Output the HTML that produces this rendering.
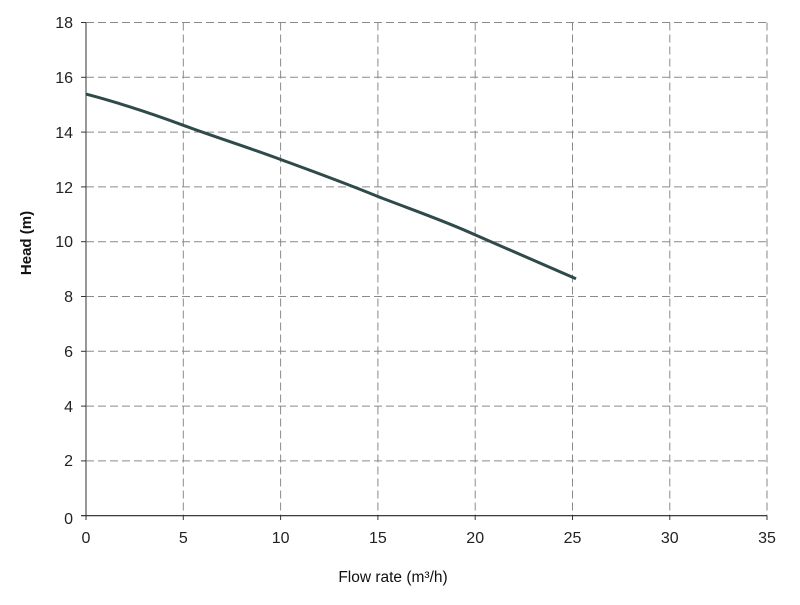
<!DOCTYPE html>
<html><head><style>body{margin:0;background:#fff}svg{display:block}</style></head><body>
<svg width="800" height="605" xmlns="http://www.w3.org/2000/svg" font-family="Liberation Sans, sans-serif">
<g stroke="#8a8a8a" stroke-width="1" stroke-dasharray="8,4" fill="none">
<line x1="86" y1="22.5" x2="767" y2="22.5"/>
<line x1="86" y1="77.3" x2="767" y2="77.3"/>
<line x1="86" y1="132.1" x2="767" y2="132.1"/>
<line x1="86" y1="186.9" x2="767" y2="186.9"/>
<line x1="86" y1="241.7" x2="767" y2="241.7"/>
<line x1="86" y1="296.5" x2="767" y2="296.5"/>
<line x1="86" y1="351.3" x2="767" y2="351.3"/>
<line x1="86" y1="406.1" x2="767" y2="406.1"/>
<line x1="86" y1="460.9" x2="767" y2="460.9"/>
<line x1="183.3" y1="22.5" x2="183.3" y2="515.7"/>
<line x1="280.6" y1="22.5" x2="280.6" y2="515.7"/>
<line x1="377.9" y1="22.5" x2="377.9" y2="515.7"/>
<line x1="475.2" y1="22.5" x2="475.2" y2="515.7"/>
<line x1="572.5" y1="22.5" x2="572.5" y2="515.7"/>
<line x1="669.8" y1="22.5" x2="669.8" y2="515.7"/>
<line x1="767" y1="22.5" x2="767" y2="515.7"/>
</g>
<g stroke="#555" stroke-width="1.2">
<line x1="86" y1="22.5" x2="86" y2="520"/>
</g>
<g stroke="#222" stroke-width="1.2">
<line x1="81" y1="515.7" x2="767" y2="515.7"/>
</g>
<g stroke="#333" stroke-width="1">
<line x1="81" y1="22.5" x2="86" y2="22.5"/><line x1="81" y1="77.3" x2="86" y2="77.3"/><line x1="81" y1="132.1" x2="86" y2="132.1"/><line x1="81" y1="186.9" x2="86" y2="186.9"/><line x1="81" y1="241.7" x2="86" y2="241.7"/><line x1="81" y1="296.5" x2="86" y2="296.5"/><line x1="81" y1="351.3" x2="86" y2="351.3"/><line x1="81" y1="406.1" x2="86" y2="406.1"/><line x1="81" y1="460.9" x2="86" y2="460.9"/>
<line x1="183.3" y1="515.7" x2="183.3" y2="520"/><line x1="280.6" y1="515.7" x2="280.6" y2="520"/><line x1="377.9" y1="515.7" x2="377.9" y2="520"/><line x1="475.2" y1="515.7" x2="475.2" y2="520"/><line x1="572.5" y1="515.7" x2="572.5" y2="520"/><line x1="669.8" y1="515.7" x2="669.8" y2="520"/><line x1="767" y1="515.7" x2="767" y2="520"/>
</g>
<path d="M86,94.1 C120,103 150,113 183.3,125.3 C215,137 250,148 280.6,159.5 C315,172 345,183 377.9,196.5 C410,209 445,221 475.2,234.9 C510,250 545,265 576,278.7" fill="none" stroke="#2f4a4a" stroke-width="3"/>
<g font-size="16" fill="#222" text-anchor="end">
<text x="73" y="28">18</text><text x="73" y="83">16</text><text x="73" y="138">14</text><text x="73" y="193">12</text><text x="73" y="247">10</text><text x="73" y="302">8</text><text x="73" y="357">6</text><text x="73" y="412">4</text><text x="73" y="466">2</text><text x="73" y="524">0</text>
</g>
<g font-size="16" fill="#222" text-anchor="middle">
<text x="86" y="543">0</text><text x="183.3" y="543">5</text><text x="280.6" y="543">10</text><text x="377.9" y="543">15</text><text x="475.2" y="543">20</text><text x="572.5" y="543">25</text><text x="669.8" y="543">30</text><text x="767" y="543">35</text>
</g>
<text x="393" y="582" font-size="15.5" fill="#111" text-anchor="middle">Flow rate (m³/h)</text>
<text x="0" y="0" font-size="15" font-weight="bold" fill="#111" text-anchor="middle" transform="translate(31,243) rotate(-90)">Head (m)</text>
</svg>
</body></html>
